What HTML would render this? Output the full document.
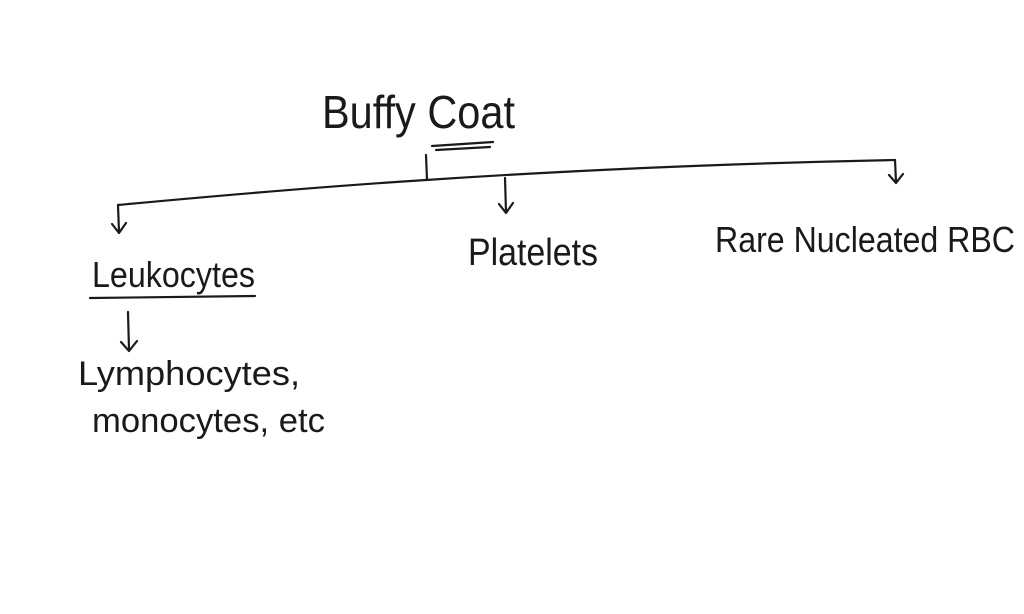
<!DOCTYPE html>
<html><head><meta charset="utf-8"><style>
html,body{margin:0;padding:0;background:#fff;}
svg{display:block}
text{font-family:"Liberation Sans",sans-serif;fill:#1a1a1a;font-weight:normal}
</style></head><body>
<svg width="1024" height="614" viewBox="0 0 1024 614" xmlns="http://www.w3.org/2000/svg">
<g stroke="#1a1a1a" stroke-width="2.2" fill="none" stroke-linecap="round" stroke-linejoin="round">
<!-- underline Coat -->
<path d="M432 146 L493 142"/>
<path d="M436 150 L490 147"/>
<!-- stem -->
<path d="M426 155 L427 180"/>
<!-- main bar -->
<path d="M118 205 Q300 188 426 180 Q650 165 895 160"/>
<!-- left arrow -->
<path d="M118 205 L119 232"/><path d="M112 224 L119 233 L126 223"/>
<!-- middle arrow -->
<path d="M505 178 L506 212"/><path d="M499 204 L506 213 L513 203"/>
<!-- right arrow -->
<path d="M895 160 L896 182"/><path d="M889 175 L896 183 L903 174"/>
<!-- leukocytes underline -->
<path d="M90 298 L255 296"/>
<!-- arrow down to lymphocytes -->
<path d="M128 312 L129 350"/><path d="M121 342 L129 351 L137 341"/>
</g>
<text x="322" y="128" font-size="46" textLength="193" lengthAdjust="spacingAndGlyphs">Buffy Coat</text>
<text x="92" y="287" font-size="36" textLength="163" lengthAdjust="spacingAndGlyphs">Leukocytes</text>
<text x="468" y="265" font-size="38" textLength="130" lengthAdjust="spacingAndGlyphs">Platelets</text>
<text x="715" y="252" font-size="36" textLength="300" lengthAdjust="spacingAndGlyphs">Rare Nucleated RBC</text>
<text x="78" y="385" font-size="34" textLength="222" lengthAdjust="spacingAndGlyphs">Lymphocytes,</text>
<text x="92" y="432" font-size="34" textLength="233" lengthAdjust="spacingAndGlyphs">monocytes, etc</text>
</svg>
</body></html>
